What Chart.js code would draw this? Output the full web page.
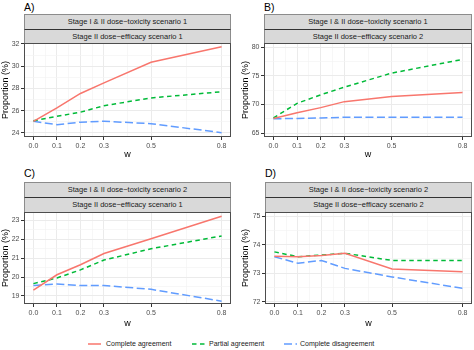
<!DOCTYPE html>
<html>
<head>
<meta charset="utf-8">
<script src="https://cdn.jsdelivr.net/npm/chart.js@4/dist/chart.umd.min.js"></script>
<style>
  html, body { margin: 0; padding: 0; background: #fff; }
  body { width: 474px; height: 350px; position: relative; overflow: hidden; font-family: "Liberation Sans", Arial, sans-serif; }
  .abs { position: absolute; }
  .lab { font-size: 10.5px; color: #000; line-height: 1; }
  .strip { background: #D9D9D9; box-sizing: border-box; font-size: 7.5px; color: #1A1A1A; text-align: center; white-space: nowrap; z-index: 2; }
  .s1 { border: 1px solid #8c8c8c; border-bottom: 1px solid #333; }
  .s2 { border-left: 1px solid #8c8c8c; border-right: 1px solid #8c8c8c; }
  canvas { position: absolute; z-index: 1; }
  .leg { position: absolute; top: 338px; height: 12px; font-size: 7px; color: #1A1A1A; line-height: 12px; white-space: nowrap; }
  .leg svg { position: absolute; top: 0; }
</style>
</head>
<body>
<script>
// ---- data ----
const wValues = [0, 0.1, 0.2, 0.3, 0.5, 0.8];
const xTickLabels = ["0.0", "0.1", "0.2", "0.3", "0.5", "0.8"];
const seriesNames = ["Complete agreement", "Partial agreement", "Complete disagreement"];
const panelLetters = ["A)", "B)", "C)", "D)"];
const toxicityStrips = ["Stage I & II dose\u2212toxicity scenario 1", "Stage I & II dose\u2212toxicity scenario 1", "Stage I & II dose\u2212toxicity scenario 2", "Stage I & II dose\u2212toxicity scenario 2"];
const efficacyStrips = ["Stage II dose\u2212efficacy scenario 1", "Stage II dose\u2212efficacy scenario 2", "Stage II dose\u2212efficacy scenario 1", "Stage II dose\u2212efficacy scenario 2"];

const aComplete     = [25.05, 26.25, 27.55, 28.5, 30.35, 31.75];
const aPartial      = [25.1, 25.5, 25.87, 26.45, 27.15, 27.7];
const aDisagreement = [25.05, 24.75, 24.97, 25.05, 24.84, 24.03];

const bComplete     = [67.55, 68.55, 69.45, 70.5, 71.4, 72.1];
const bPartial      = [67.65, 70.2, 71.7, 73.05, 75.5, 77.9];
const bDisagreement = [67.5, 67.55, 67.65, 67.75, 67.75, 67.75];

const cComplete     = [19.3, 20.12, 20.65, 21.25, 22.03, 23.22];
const cPartial      = [19.65, 19.95, 20.38, 20.9, 21.5, 22.18];
const cDisagreement = [19.55, 19.63, 19.55, 19.55, 19.35, 18.72];

const dComplete     = [73.6, 73.58, 73.62, 73.7, 73.15, 73.05];
const dPartial      = [73.75, 73.58, 73.64, 73.7, 73.45, 73.45];
const dDisagreement = [73.58, 73.35, 73.45, 73.17, 72.87, 72.47];

const aYTicks = [24, 26, 28, 30, 32];
const bYTicks = [65, 70, 75, 80];
const cYTicks = [19, 20, 21, 22, 23];
const dYTicks = [72, 73, 74, 75];

// ---- styling / layout ----
const colors = ["#F8766D", "#00BA38", "#619CFF"];
const dashes = [[], [4.5, 3.5], [8, 3.5]];
const panels = [
  { data: [aComplete, aPartial, aDisagreement], ticks: aYTicks, min: 23.64, max: 32.08, left: 0, top: 43, yw: 24, pr: 6, xh: 26, titlePad: 0, labTop: 2, s1Top: 14, s1H: 16, s2H: 13 },
  { data: [bComplete, bPartial, bDisagreement], ticks: bYTicks, min: 64.3, max: 80.78, left: 237, top: 43, yw: 27, pr: 2, xh: 26, titlePad: 3.6, labTop: 2, s1Top: 14, s1H: 16, s2H: 13 },
  { data: [cComplete, cPartial, cDisagreement], ticks: cYTicks, min: 18.57, max: 23.45, left: 0, top: 212, yw: 24, pr: 6, xh: 28, titlePad: 0, labTop: 168, s1Top: 182, s1H: 16, s2H: 14 },
  { data: [dComplete, dPartial, dDisagreement], ticks: dYTicks, min: 71.92, max: 75.15, left: 237, top: 212, yw: 28, pr: 2, xh: 28, titlePad: 3.6, labTop: 168, s1Top: 182, s1H: 16, s2H: 14 }
];
const TOP_EXTRA = 6;

function midpoints(arr) {
  const out = [];
  for (let i = 0; i < arr.length - 1; i++) out.push((arr[i] + arr[i + 1]) / 2);
  return out;
}
function isIn(v, arr) { return arr.some(a => Math.abs(a - v) < 1e-9); }

const borderPlugin = {
  id: 'panelBorder',
  afterDatasetsDraw(chart) {
    const a = chart.chartArea, ctx = chart.ctx;
    ctx.save();
    ctx.strokeStyle = '#4d4d4d';
    ctx.lineWidth = 1;
    ctx.strokeRect(Math.round(a.left) + 0.5, Math.round(a.top) + 0.5, Math.round(a.right - a.left) - 1, Math.round(a.bottom - a.top) - 1);
    ctx.restore();
  }
};

const tickFont = { family: "'Liberation Sans', Arial, sans-serif", size: 7 };
const titleFont = { family: "'Liberation Sans', Arial, sans-serif", size: 9 };

panels.forEach((p, i) => {
  const W = 237, H = 120 + TOP_EXTRA;
  const plotLeft = p.left + p.yw;
  const plotW = W - p.yw - p.pr;

  const lab = document.createElement('div');
  lab.className = 'abs lab';
  lab.style.left = (plotLeft) + 'px';
  lab.style.top = p.labTop + 'px';
  lab.textContent = panelLetters[i];
  document.body.appendChild(lab);

  const s1 = document.createElement('div');
  s1.className = 'abs strip s1';
  Object.assign(s1.style, { left: plotLeft + 'px', top: p.s1Top + 'px', width: plotW + 'px', height: p.s1H + 'px', lineHeight: (p.s1H - 2) + 'px' });
  s1.textContent = toxicityStrips[i];
  document.body.appendChild(s1);

  const s2 = document.createElement('div');
  s2.className = 'abs strip s2';
  Object.assign(s2.style, { left: plotLeft + 'px', top: (p.s1Top + p.s1H) + 'px', width: plotW + 'px', height: p.s2H + 'px', lineHeight: p.s2H + 'px' });
  s2.textContent = efficacyStrips[i];
  document.body.appendChild(s2);

  const cv = document.createElement('canvas');
  cv.width = W; cv.height = H;
  cv.style.left = p.left + 'px'; cv.style.top = (p.top - TOP_EXTRA) + 'px';
  cv.style.width = W + 'px'; cv.style.height = H + 'px';
  document.body.appendChild(cv);

  const xMinor = midpoints(wValues);
  const yMinor = midpoints(p.ticks);

  new Chart(cv.getContext('2d'), {
    type: 'line',
    data: {
      datasets: p.data.map((vals, k) => ({
        label: seriesNames[k],
        data: wValues.map((w, j) => ({ x: w, y: vals[j] })),
        borderColor: colors[k],
        borderWidth: 1.5,
        borderDash: dashes[k],
        pointRadius: 0,
        fill: false,
        tension: 0
      }))
    },
    options: {
      responsive: false,
      devicePixelRatio: 1,
      animation: false,
      events: [],
      layout: { padding: { left: 0, right: p.pr, top: TOP_EXTRA, bottom: 0 } },
      plugins: { legend: { display: false }, tooltip: { enabled: false } },
      scales: {
        x: {
          type: 'linear',
          min: -0.04, max: 0.84,
          afterBuildTicks: (s) => { s.ticks = wValues.concat(xMinor).sort((a, b) => a - b).map(v => ({ value: v })); },
          afterFit: (s) => { s.height = p.xh; s.paddingLeft = 0; s.paddingRight = 0; },
          ticks: {
            autoSkip: false, maxRotation: 0, minRotation: 0, padding: 1.5,
            color: '#4D4D4D', font: tickFont,
            callback: (v) => { const idx = wValues.findIndex(w => Math.abs(w - v) < 1e-9); return idx >= 0 ? xTickLabels[idx] : ''; }
          },
          grid: {
            color: (c) => (c.tick && isIn(c.tick.value, wValues)) ? '#EBEBEB' : '#F3F3F3',
            lineWidth: (c) => (c.tick && isIn(c.tick.value, wValues)) ? 1 : 0.7,
            tickColor: (c) => (c.tick && isIn(c.tick.value, wValues)) ? '#333333' : 'rgba(0,0,0,0)',
            tickLength: 3, drawTicks: true
          },
          border: { display: false },
          title: { display: true, text: 'w', color: '#000', font: titleFont, padding: { top: 0, bottom: 3 } }
        },
        y: {
          type: 'linear',
          min: p.min, max: p.max,
          afterBuildTicks: (s) => { s.ticks = p.ticks.concat(yMinor).sort((a, b) => a - b).map(v => ({ value: v })); },
          afterFit: (s) => { s.width = p.yw; s.paddingTop = 0; s.paddingBottom = 0; },
          ticks: {
            padding: 1.5, color: '#4D4D4D', font: tickFont,
            callback: (v) => isIn(v, p.ticks) ? String(v) : ''
          },
          grid: {
            color: (c) => (c.tick && isIn(c.tick.value, p.ticks)) ? '#EBEBEB' : '#F3F3F3',
            lineWidth: (c) => (c.tick && isIn(c.tick.value, p.ticks)) ? 1 : 0.7,
            tickColor: (c) => (c.tick && isIn(c.tick.value, p.ticks)) ? '#333333' : 'rgba(0,0,0,0)',
            tickLength: 3, drawTicks: true
          },
          border: { display: false },
          title: { display: true, text: 'Proportion (%)', color: '#000', font: titleFont, padding: { top: p.titlePad, bottom: 0 } }
        }
      }
    },
    plugins: [borderPlugin]
  });
});

// ---- legend ----
const legendItems = [
  { keyLeft: 88, textLeft: 106 },
  { keyLeft: 192, textLeft: 209 },
  { keyLeft: 284, textLeft: 300 }
];
legendItems.forEach((it, k) => {
  const d = document.createElement('div');
  d.className = 'leg';
  d.style.left = it.keyLeft + 'px';
  const svgNS = 'http://www.w3.org/2000/svg';
  const svg = document.createElementNS(svgNS, 'svg');
  svg.setAttribute('width', '13'); svg.setAttribute('height', '12');
  svg.style.left = '0px';
  const ln = document.createElementNS(svgNS, 'line');
  ln.setAttribute('x1', '0'); ln.setAttribute('x2', '13');
  ln.setAttribute('y1', '6'); ln.setAttribute('y2', '6');
  ln.setAttribute('stroke', colors[k]); ln.setAttribute('stroke-width', '1.5');
  if (dashes[k].length) ln.setAttribute('stroke-dasharray', dashes[k].join(' '));
  svg.appendChild(ln);
  d.appendChild(svg);
  const t = document.createElement('span');
  t.style.position = 'absolute';
  t.style.left = (it.textLeft - it.keyLeft) + 'px';
  t.textContent = seriesNames[k];
  d.appendChild(t);
  document.body.appendChild(d);
});
</script>
</body>
</html>
